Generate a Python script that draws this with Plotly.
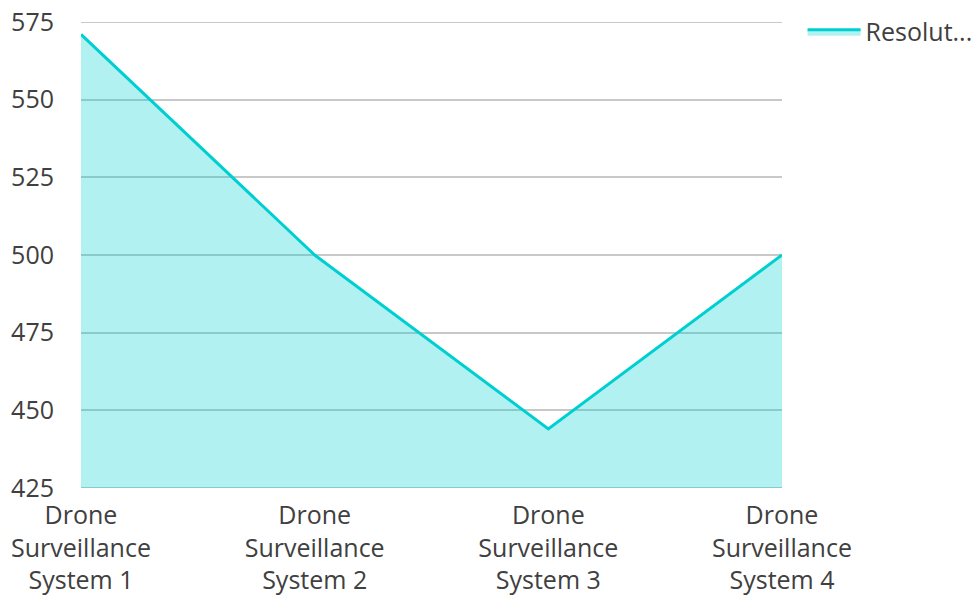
import plotly.graph_objects as go

categories = ["Drone<br>Surveillance<br>System 1", "Drone<br>Surveillance<br>System 2",
              "Drone<br>Surveillance<br>System 3", "Drone<br>Surveillance<br>System 4"]
values = [571, 500, 444, 500]
series_name = "Resolut..."
y_ticks = [425, 450, 475, 500, 525, 550, 575]

fig = go.Figure()
fig.add_trace(go.Scatter(
    x=categories, y=values, name=series_name, mode="lines",
    line=dict(color="#00cfd1", width=3),
    fill="tozeroy", fillcolor="rgba(0,207,209,0.3)",
))

fig.update_layout(
    width=974, height=595,
    margin=dict(l=81, r=192, t=22, b=107),
    plot_bgcolor="white", paper_bgcolor="white",
    font=dict(family="Open Sans", size=25, color="#404040"),
    showlegend=True,
    legend=dict(xref="container", yref="container", x=0.824, y=0.985,
                xanchor="left", yanchor="top",
                font=dict(size=25, color="#404040"), itemwidth=53),
    xaxis=dict(showgrid=False, showline=False, ticks="", automargin=False,
               range=[0, 3], tickangle=0, ticklabelstandoff=10),
    yaxis=dict(range=[425, 575], tickvals=y_ticks, showgrid=True, automargin=False,
               gridcolor="#c8c8c8", gridwidth=2, zeroline=False,
               ticks="", ticklabelstandoff=26),
)
for yv in [425, 575]:
    fig.add_shape(type="line", xref="paper", yref="y", x0=0, x1=1, y0=yv, y1=yv,
                  line=dict(color="#c8c8c8", width=2), layer="below")

fig.write_html("out.html", config={"displayModeBar": False},
               post_script="document.body.style.margin='0';")
